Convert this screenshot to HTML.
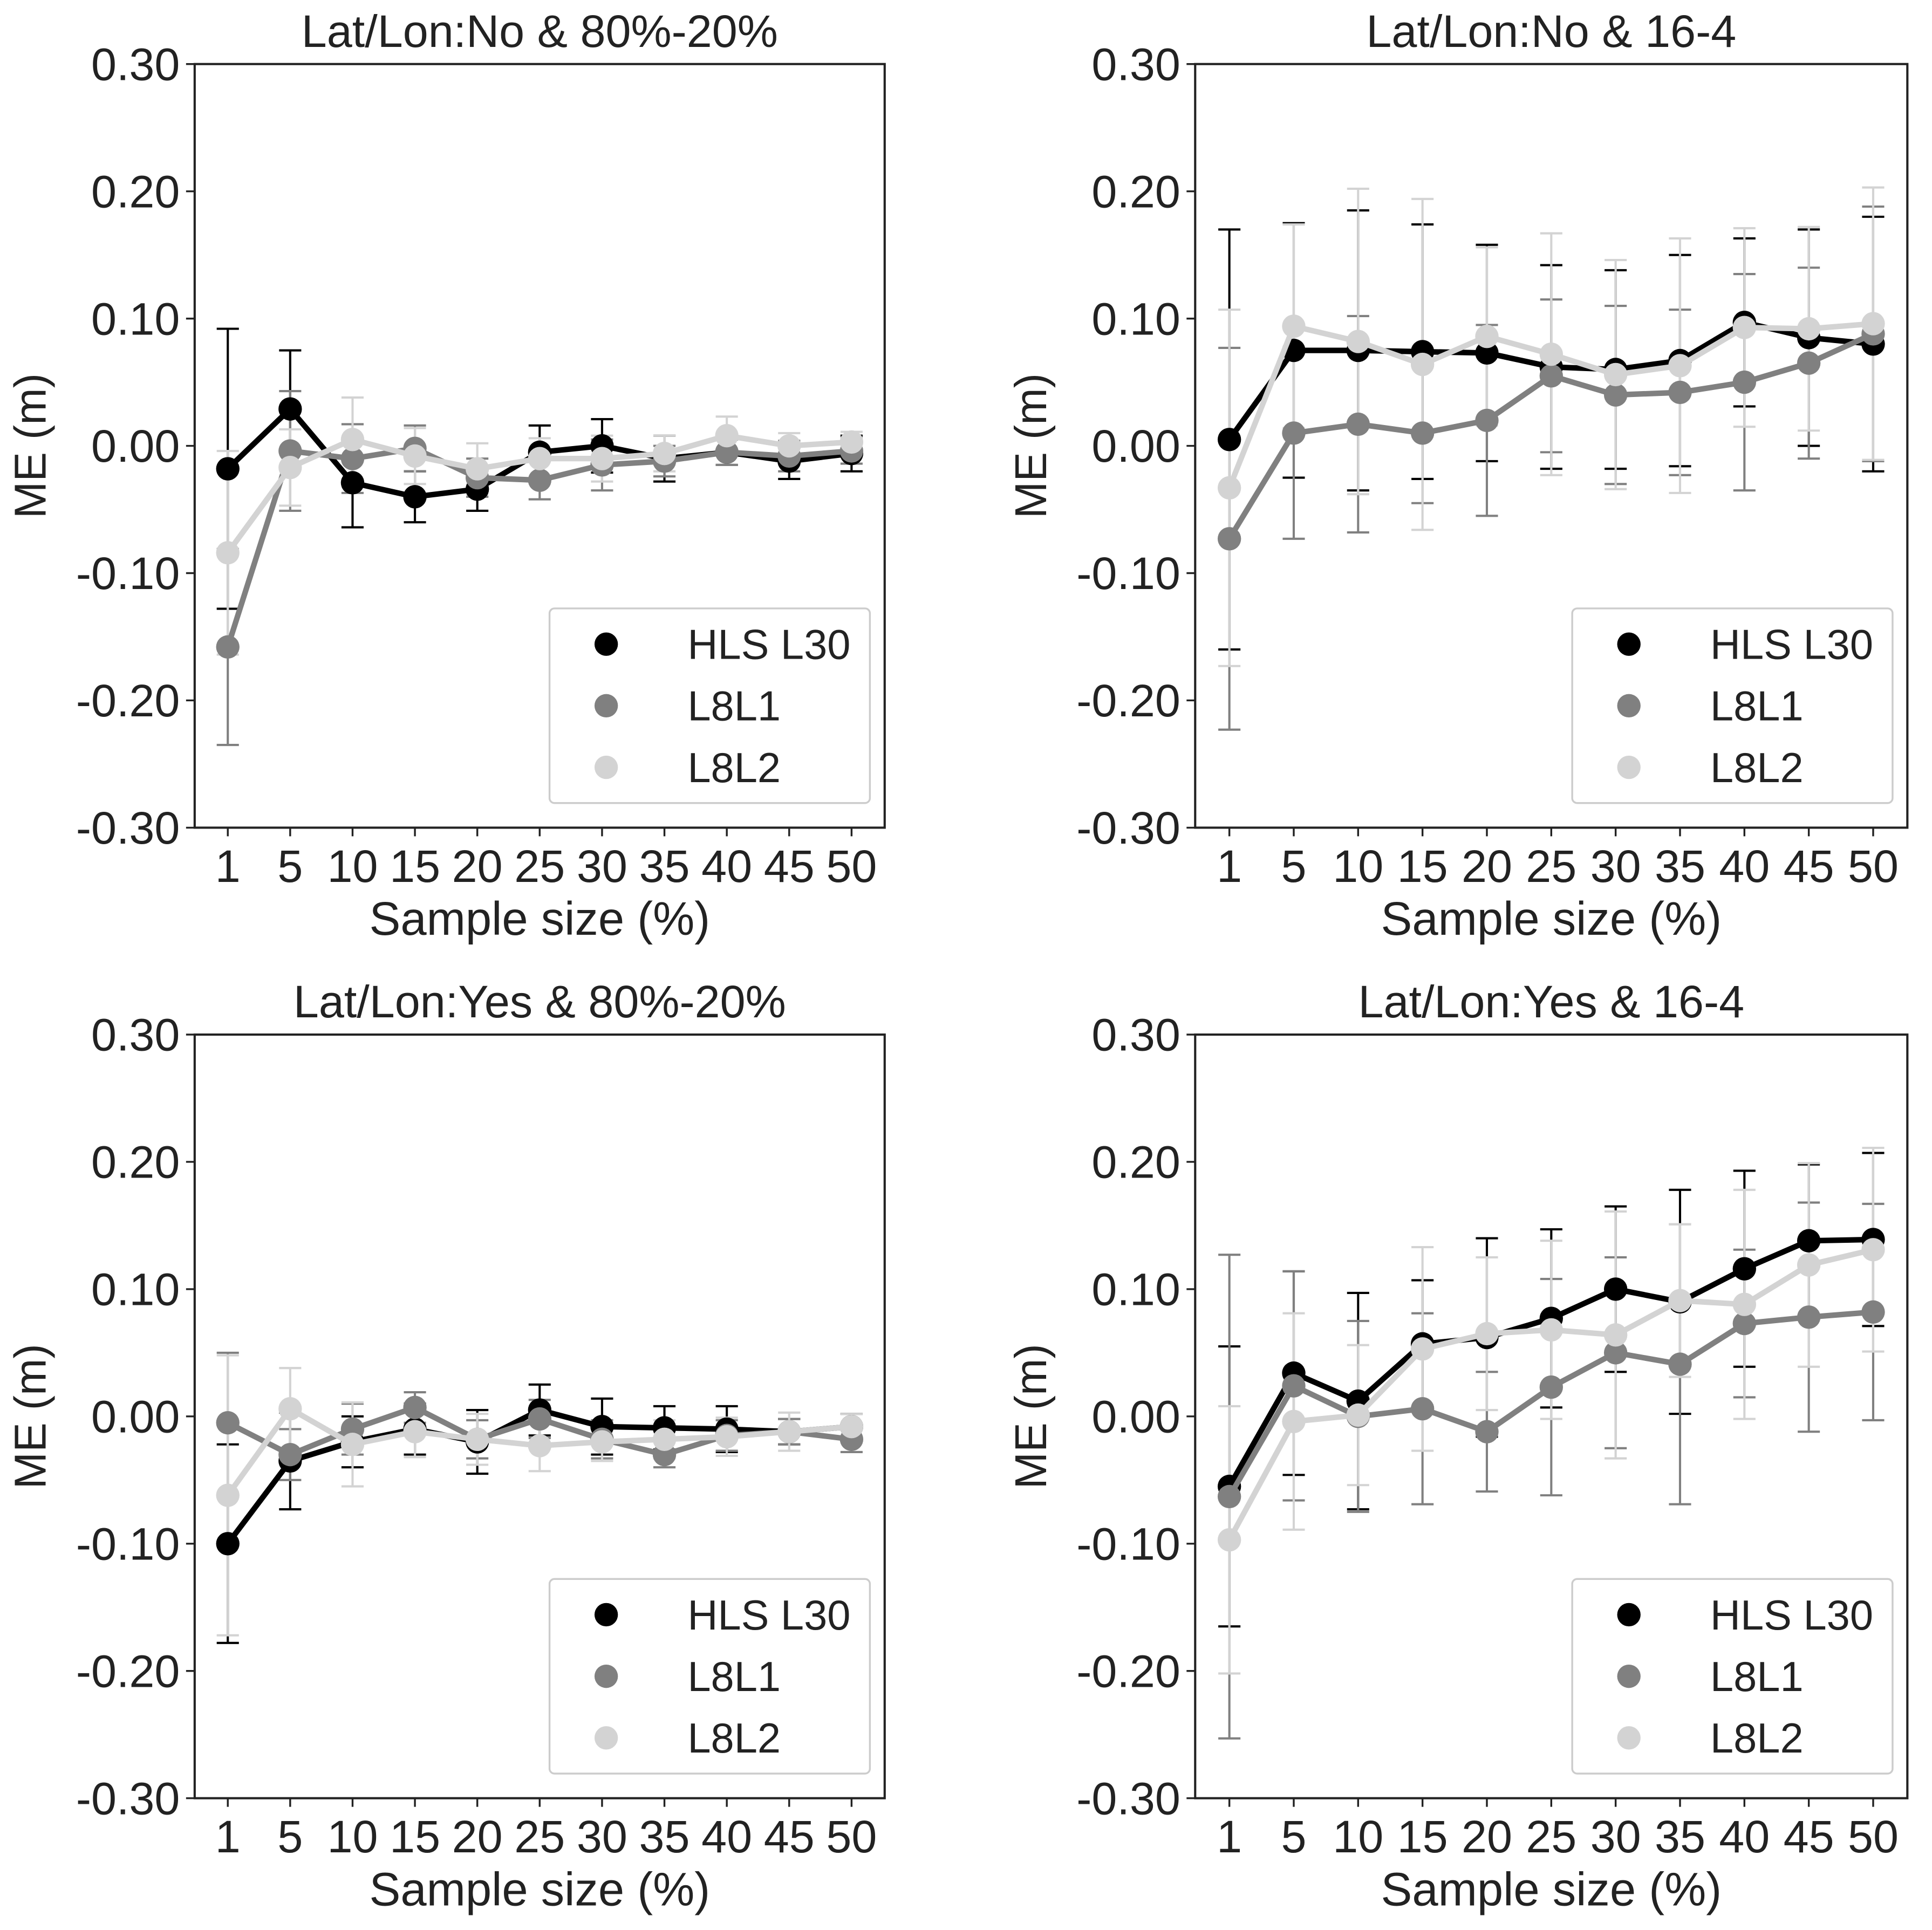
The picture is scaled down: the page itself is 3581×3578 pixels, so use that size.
<!DOCTYPE html>
<html><head><meta charset="utf-8"><style>
html,body{margin:0;padding:0;background:#fff}
svg{display:block}
text{font-family:"Liberation Sans",Arial,sans-serif;fill:#222}
</style></head><body>
<svg id="fig" width="3581" height="3578" viewBox="0 0 1568 1567" preserveAspectRatio="none" xmlns="http://www.w3.org/2000/svg"></svg>
<script>
const categories=["1","5","10","15","20","25","30","35","40","45","50"];
const yTicks=[0.30,0.20,0.10,0.00,-0.10,-0.20,-0.30];
const seriesNames=["HLS L30","L8L1","L8L2"];
const seriesColors=["#000000","#808080","#d3d3d3"];
const titles=["Lat/Lon:No & 80%-20%","Lat/Lon:No & 16-4","Lat/Lon:Yes & 80%-20%","Lat/Lon:Yes & 16-4"];
// panel 1
const p1HLS=[-0.018,0.029,-0.029,-0.040,-0.034,-0.005,0.000,-0.010,-0.005,-0.012,-0.006];
const p1HLSerr=[0.11,0.046,0.035,0.02,0.017,0.021,0.021,0.018,0.01,0.014,0.014];
const p1L1=[-0.158,-0.004,-0.010,-0.002,-0.025,-0.027,-0.015,-0.012,-0.005,-0.008,-0.004];
const p1L1err=[0.077,0.047,0.027,0.018,0.015,0.015,0.02,0.012,0.01,0.012,0.01];
const p1L2=[-0.084,-0.017,0.005,-0.008,-0.018,-0.010,-0.010,-0.006,0.008,0.000,0.003];
const p1L2err=[0.08,0.03,0.033,0.022,0.02,0.016,0.018,0.014,0.015,0.01,0.008];
// panel 2
const p2HLS=[0.005,0.075,0.075,0.074,0.073,0.062,0.060,0.067,0.097,0.085,0.080];
const p2HLSerr=[0.165,0.10,0.11,0.10,0.085,0.08,0.078,0.083,0.066,0.085,0.10];
const p2L1=[-0.073,0.010,0.017,0.010,0.020,0.055,0.040,0.042,0.050,0.065,0.088];
const p2L1err=[0.15,0.083,0.085,0.055,0.075,0.06,0.07,0.065,0.085,0.075,0.10];
const p2L2=[-0.033,0.094,0.082,0.064,0.086,0.072,0.056,0.063,0.093,0.092,0.096];
const p2L2err=[0.14,0.08,0.12,0.13,0.07,0.095,0.09,0.10,0.078,0.08,0.107];
// panel 3
const p3HLS=[-0.100,-0.035,-0.020,-0.010,-0.020,0.005,-0.008,-0.009,-0.010,-0.012,-0.008];
const p3HLSerr=[0.078,0.038,0.02,0.02,0.025,0.02,0.022,0.017,0.018,0.01,0.01];
const p3L1=[-0.005,-0.030,-0.010,0.007,-0.018,-0.002,-0.018,-0.030,-0.015,-0.012,-0.018];
const p3L1err=[0.055,0.02,0.02,0.012,0.015,0.015,0.015,0.01,0.012,0.01,0.01];
const p3L2=[-0.062,0.006,-0.022,-0.012,-0.018,-0.023,-0.020,-0.018,-0.016,-0.012,-0.008];
const p3L2err=[0.11,0.032,0.033,0.02,0.02,0.02,0.015,0.015,0.015,0.015,0.01];
// panel 4
const p4HLS=[-0.055,0.034,0.012,0.057,0.062,0.077,0.100,0.090,0.116,0.138,0.139];
const p4HLSerr=[0.11,0.08,0.085,0.05,0.078,0.07,0.065,0.088,0.077,0.06,0.068];
const p4L1=[-0.063,0.024,0.000,0.006,-0.012,0.023,0.050,0.041,0.073,0.078,0.082];
const p4L1err=[0.19,0.09,0.075,0.075,0.047,0.085,0.075,0.11,0.058,0.09,0.085];
const p4L2=[-0.097,-0.004,0.001,0.053,0.065,0.068,0.064,0.091,0.088,0.119,0.131];
const p4L2err=[0.105,0.085,0.055,0.08,0.06,0.07,0.097,0.06,0.09,0.08,0.08];

const panels=[
 {x0:158,x1:718,y0:52,y1:672,vals:[p1HLS,p1L1,p1L2],errs:[p1HLSerr,p1L1err,p1L2err]},
 {x0:970,x1:1548,y0:52,y1:672,vals:[p2HLS,p2L1,p2L2],errs:[p2HLSerr,p2L1err,p2L2err]},
 {x0:158,x1:718,y0:840,y1:1460,vals:[p3HLS,p3L1,p3L2],errs:[p3HLSerr,p3L1err,p3L2err]},
 {x0:970,x1:1548,y0:840,y1:1460,vals:[p4HLS,p4L1,p4L2],errs:[p4HLSerr,p4L1err,p4L2err]}
];
const NS="http://www.w3.org/2000/svg";
const svg=document.getElementById('fig');
function mk(tag,attrs,parent,txt){const e=document.createElementNS(NS,tag);for(const k in attrs)e.setAttribute(k,attrs[k]);if(txt!==undefined)e.textContent=txt;(parent||svg).appendChild(e);return e;}
panels.forEach((p,pi)=>{
 const g=mk('g',{});
 
 
 const pad=(p.x1-p.x0)*0.048;
 const xs=i=>p.x0+pad+i*((p.x1-p.x0-2*pad)/(categories.length-1));
 const ys=v=>p.y0+(0.30-v)/0.60*(p.y1-p.y0);
 const t=mk('text',{x:(p.x0+p.x1)/2,y:p.y0-14,'font-size':37,'text-anchor':'middle'},g,titles[pi]);
 
 
 yTicks.forEach(v=>{
  mk('line',{x1:p.x0-7,x2:p.x0,y1:ys(v),y2:ys(v),stroke:'#222','stroke-width':1.5},g);
  const tl=mk('text',{x:p.x0-12,y:ys(v)+13,'font-size':37,'text-anchor':'end'},g,v.toFixed(2));
  
  
 });
 categories.forEach((c,i)=>{
  mk('line',{x1:xs(i),x2:xs(i),y1:p.y1,y2:p.y1+7,stroke:'#222','stroke-width':1.5},g);
  const tl=mk('text',{x:xs(i),y:p.y1+44,'font-size':37,'text-anchor':'middle'},g,c);
  
  
 });
 const xt=mk('text',{x:(p.x0+p.x1)/2,y:p.y1+87,'font-size':38,'text-anchor':'middle'},g,'Sample size (%)');
 
 
 const yt=mk('text',{x:0,y:0,'font-size':36,'text-anchor':'middle',transform:`translate(${p.x0-121},${(p.y0+p.y1)/2}) rotate(-90)`},g,'ME (m)');
 
 
 p.vals.forEach((vals,si)=>{
  const col=seriesColors[si];
  vals.forEach((v,i)=>{
   const e=p.errs[si][i],x=xs(i);
   const eb=mk('g',{stroke:col,'stroke-width':1.8},g);
   
   
   mk('line',{x1:x,x2:x,y1:ys(v+e),y2:ys(v-e)},eb);
   mk('line',{x1:x-9,x2:x+9,y1:ys(v+e),y2:ys(v+e)},eb);
   mk('line',{x1:x-9,x2:x+9,y1:ys(v-e),y2:ys(v-e)},eb);
  });
 });
 p.vals.forEach((vals,si)=>{
  const col=seriesColors[si];
  const pts=vals.map((v,i)=>xs(i)+','+ys(v)).join(' ');
  const pl=mk('polyline',{points:pts,fill:'none',stroke:col,'stroke-width':4.5},g);
  
  
  vals.forEach((v,i)=>{
   const c=mk('circle',{cx:xs(i),cy:ys(v),r:9.5,fill:col},g);
   
   
  });
 });
 const fr=mk('rect',{x:p.x0,y:p.y0,width:p.x1-p.x0,height:p.y1-p.y0,fill:'none',stroke:'#222','stroke-width':1.8},g);
 
 
 const lx=p.x1-272,ly=p.y1-178;
 const lg=mk('g',{},g);
 
 
 mk('rect',{x:lx,y:ly,width:260,height:158,rx:4,fill:'#fff',stroke:'#ccc','stroke-width':1.5},lg);
 seriesNames.forEach((n,si)=>{
  const yy=ly+29+si*50;
  mk('circle',{cx:lx+46,cy:yy,r:9.5,fill:seriesColors[si]},lg);
  const lt=mk('text',{x:lx+112,y:yy+12,'font-size':34},lg,n);
  
  
 });
});
</script>
</body></html>
